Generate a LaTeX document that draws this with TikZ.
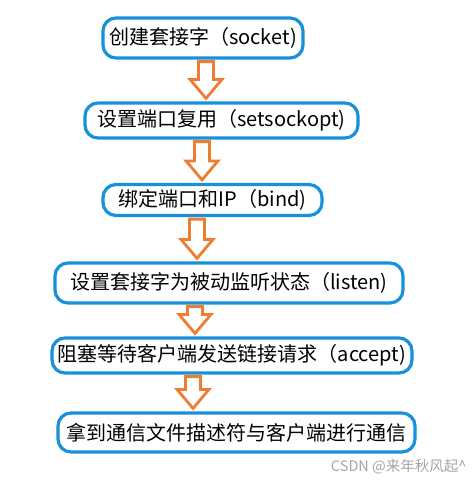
\documentclass[tikz,border=0pt]{standalone}
\usepackage{fontspec}
\setmainfont{Noto Sans CJK SC}
\usetikzlibrary{calc}
\definecolor{boxblue}{RGB}{24,144,218}
\definecolor{arroworange}{RGB}{237,125,49}
\tikzset{
  stepbox/.style={draw=boxblue, line width=3.2pt, rounded corners=13pt, inner sep=0pt,
    font=\fontsize{20}{24}\selectfont},
  flowarrow/.style={draw=arroworange, fill=white, line width=2.8pt, line join=miter}
}
\newcommand{\blockarrow}[3]{%
  \draw[flowarrow] let \p1=(#2.south), \p2=(#3.north) in
    (#1-7.5pt,\y1-2pt) -- (#1-7.5pt,\y2+22pt) -- (#1-16pt,\y2+22pt) -- (#1,\y2+3pt)
    -- (#1+16pt,\y2+22pt) -- (#1+7.5pt,\y2+22pt) -- (#1+7.5pt,\y1-2pt) -- cycle;}
\begin{document}
\begin{tikzpicture}[x=1pt,y=-1pt]
        \useasboundingbox (0,0) rectangle (474,482);
        \node[stepbox, minimum width=200pt, minimum height=40pt] (socket) at (203,38) {创建套接字（socket)};
        \node[stepbox, minimum width=273pt, minimum height=35pt] (setopt) at (221.5,120.5) {设置端口复用（setsockopt)};
        \node[stepbox, minimum width=219pt, minimum height=31pt] (bind) at (212.5,200) {绑定端口和IP（bind)};
        \node[stepbox, minimum width=348pt, minimum height=40pt] (listen) at (229,283) {设置套接字为被动监听状态（listen)};
        \node[stepbox, minimum width=360pt, minimum height=35pt] (accept) at (232,355.5) {阻塞等待客户端发送链接请求（accept)};
        \node[stepbox, minimum width=357pt, minimum height=39pt] (comm) at (236.5,432.5) {拿到通信文件描述符与客户端进行通信};
        \blockarrow{206pt}{socket}{setopt}
        \blockarrow{202pt}{setopt}{bind}
        \blockarrow{197pt}{bind}{listen}
        \blockarrow{195pt}{listen}{accept}
        \blockarrow{193pt}{accept}{comm}
        \node[anchor=east, text=black!35, font=\fontsize{14.5}{16}\selectfont] (mark) at (470,467) {CSDN @来年秋风起\textasciicircum};
    \end{tikzpicture}
\end{document}
